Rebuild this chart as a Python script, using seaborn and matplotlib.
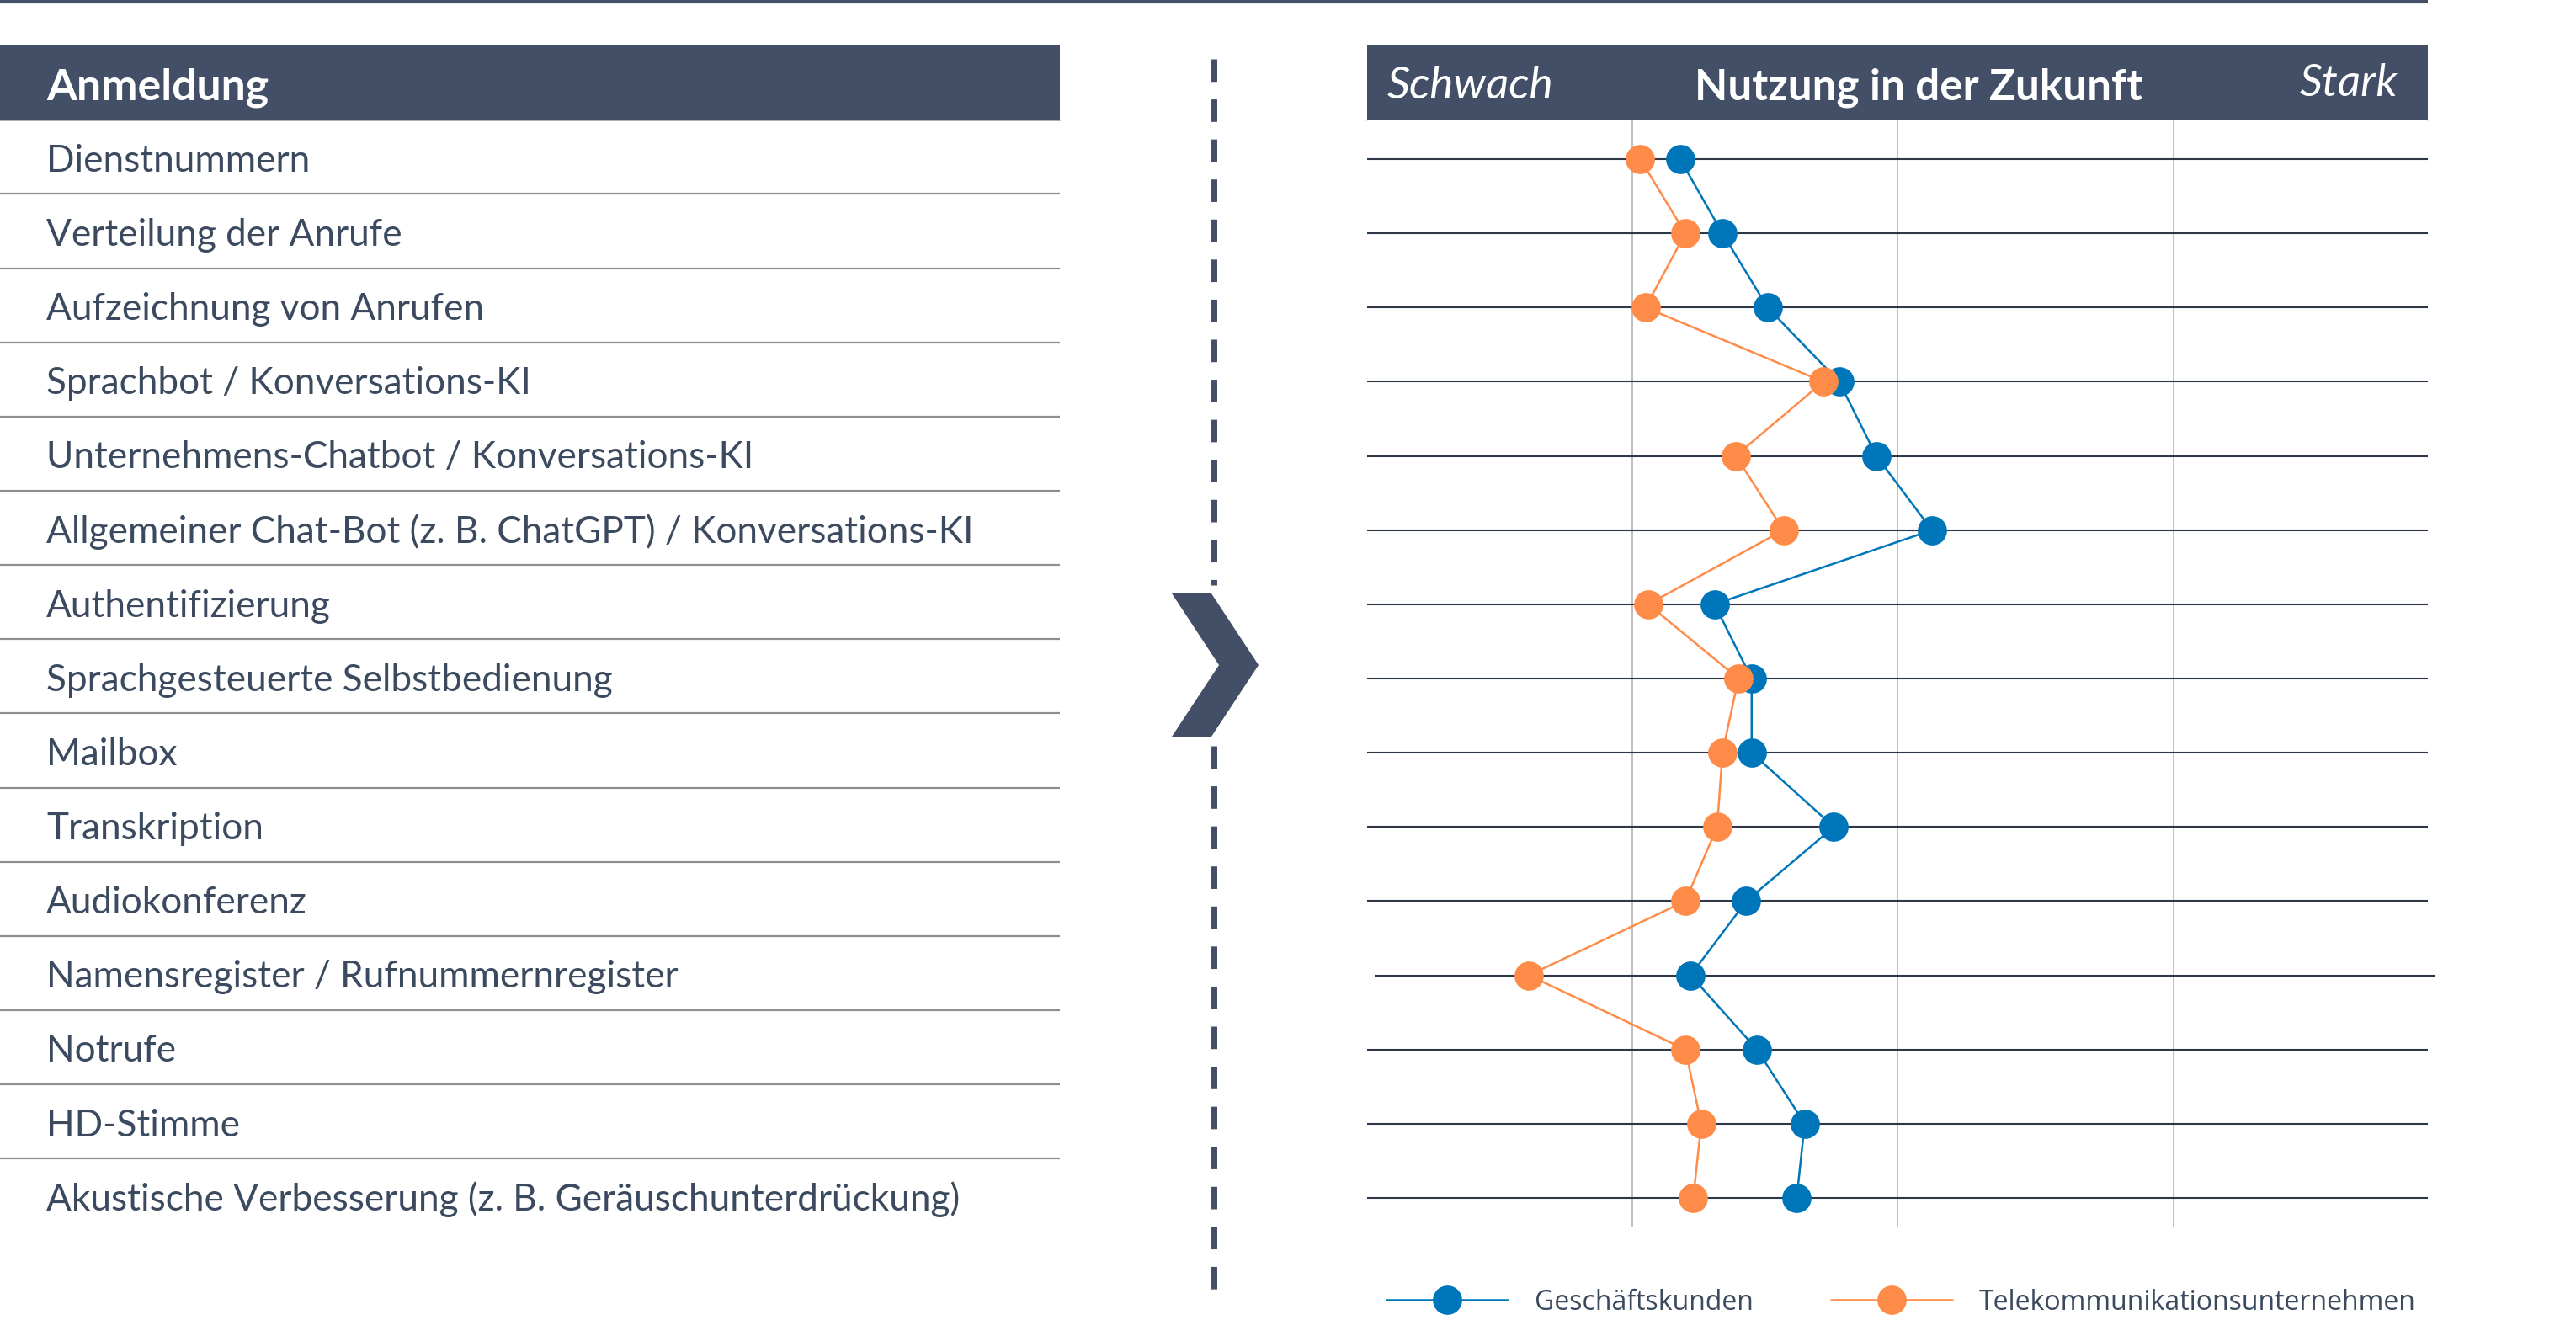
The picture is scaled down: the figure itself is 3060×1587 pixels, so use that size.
import matplotlib
matplotlib.use("Agg")
import matplotlib.pyplot as plt
from matplotlib.patches import Rectangle, Polygon
import pandas as pd
import seaborn as sns

# Daten (Skala 1 = schwach ... 5 = stark)
funktionen = [
    "Dienstnummern",
    "Verteilung der Anrufe",
    "Aufzeichnung von Anrufen",
    "Sprachbot / Konversations-KI",
    "Unternehmens-Chatbot / Konversations-KI",
    "Allgemeiner Chat-Bot (z. B. ChatGPT) / Konversations-KI",
    "Authentifizierung",
    "Sprachgesteuerte Selbstbedienung",
    "Mailbox",
    "Transkription",
    "Audiokonferenz",
    "Namensregister / Rufnummernregister",
    "Notrufe",
    "HD-Stimme",
    "Akustische Verbesserung (z. B. Geräuschunterdrückung)",
]
geschaeftskunden = [2.18, 2.34, 2.51, 2.78, 2.92, 3.13, 2.31, 2.45, 2.45, 2.76, 2.43, 2.22, 2.47, 2.65, 2.62]
telko = [2.03, 2.20, 2.05, 2.72, 2.39, 2.57, 2.06, 2.40, 2.34, 2.32, 2.20, 1.61, 2.20, 2.26, 2.23]
gruppen = ["Geschäftskunden", "Telekommunikationsunternehmen"]
farben = ["#0076BA", "#FF8B48"]

links_titel = "Anmeldung"
rechts_titel = "Nutzung in der Zukunft"
skala_links = "Schwach"
skala_rechts = "Stark"

df = pd.DataFrame({
    "zeile": list(range(len(funktionen))) * 2,
    "wert": geschaeftskunden + telko,
    "gruppe": [gruppen[0]] * len(funktionen) + [gruppen[1]] * len(funktionen),
})

sns.set_style("white")
plt.rcParams["font.family"] = ["Lato", "DejaVu Sans"]

dunkel = "#424F66"
textfarbe = "#3B4A5F"
W, H = 3060, 1587

fig = plt.figure(figsize=(15.3, 7.935), dpi=200)


def rect(x0, y0, x1, y1):
    return [x0 / W, 1 - y1 / H, (x1 - x0) / W, (y1 - y0) / H]


# row units shared by both panels
y_oben = (142 - 189) / 88.14
y_unten = (1458 - 189) / 88.14

# ---- left table ----
axl = fig.add_axes(rect(0, 142, 1259, 1458))
axl.set_xlim(0, 1)
axl.set_ylim(y_unten, y_oben)
axl.axis("off")
for i, name in enumerate(funktionen):
    axl.text(55 / 1259, i + 0.025, name, ha="left", va="center",
             fontsize=15.9, color=textfarbe)
    if i < len(funktionen) - 1:
        axl.axhline(i + 0.47, color="#8E8E8E", lw=0.8)

# ---- right panel (data) ----
ax = fig.add_axes(rect(1624, 142, 2884, 1458))
for i in range(len(funktionen)):
    # the Namensregister line is slightly shifted in the original
    off = 0.028 if i == 11 else 0.0
    ax.hlines(i, 1 + off, 5 + off, color="#2E3746", lw=0.75, zorder=1, clip_on=False)
for gx in [2.0, 3.0, 4.04]:
    ax.axvline(gx, color="#B4B4B4", lw=0.6, zorder=0)

sns.lineplot(data=df, x="wert", y="zeile", hue="gruppe", hue_order=gruppen,
             palette=farben, orient="y", sort=False, estimator=None,
             marker="o", markersize=12.5, markeredgewidth=0, linewidth=0.9,
             ax=ax, zorder=3)
ax.set_xlim(1, 5)
ax.set_ylim(y_unten, y_oben)
ax.set_xlabel("")
ax.set_ylabel("")
ax.set_xticks([])
ax.set_yticks([])
sns.despine(ax=ax, left=True, bottom=True)

sns.move_legend(ax, "center left", bbox_to_anchor=(1647 / W, 1 - 1547 / H),
                bbox_transform=fig.transFigure, ncol=2, frameon=False, title=None,
                handlelength=4.5, handletextpad=1.0, columnspacing=2.9,
                borderpad=0, borderaxespad=0, labelcolor=textfarbe,
                prop={"family": ["Open Sans", "DejaVu Sans"], "size": 11.5})

# ---- decorations in pixel coordinates ----
deko = fig.add_axes([0, 0, 1, 1], zorder=-1)
deko.set_xlim(0, W)
deko.set_ylim(H, 0)
deko.axis("off")

deko.plot([0, 2884], [1.5, 1.5], color=dunkel, lw=1.5, solid_capstyle="butt")
deko.add_patch(Rectangle((0, 54), 1259, 88, color=dunkel, lw=0))
deko.add_patch(Rectangle((1624, 54), 1260, 88, color=dunkel, lw=0))
deko.plot([0, 1259], [143, 143], color="#9AA0A8", lw=0.6)
deko.plot([1624, 2884], [143, 143], color="#9AA0A8", lw=0.6)

deko.text(55, 104, links_titel, ha="left", va="center", fontsize=18.7,
          fontweight="bold", color="white")
deko.text(2279, 104, rechts_titel, ha="center", va="center", fontsize=18.4,
          fontweight="bold", color="white")
deko.text(1648, 102, skala_links, ha="left", va="center", fontsize=19.2,
          style="italic", color="white")
deko.text(2848, 99, skala_rechts, ha="right", va="center", fontsize=19.2,
          style="italic", color="white")

# dashed separator + chevron
for y0, y1 in [(70, 695), (886, 1542)]:
    deko.plot([1442, 1442], [y0, y1], color=dunkel, lw=2.5,
              dashes=(3.85, 3.0), solid_capstyle="butt", dash_capstyle="butt")
deko.add_patch(Polygon([(1392, 705), (1439, 705), (1495, 790), (1439, 875),
                        (1392, 875), (1448, 790)], closed=True, color=dunkel, lw=0))

fig.savefig("out.png", dpi=200)
